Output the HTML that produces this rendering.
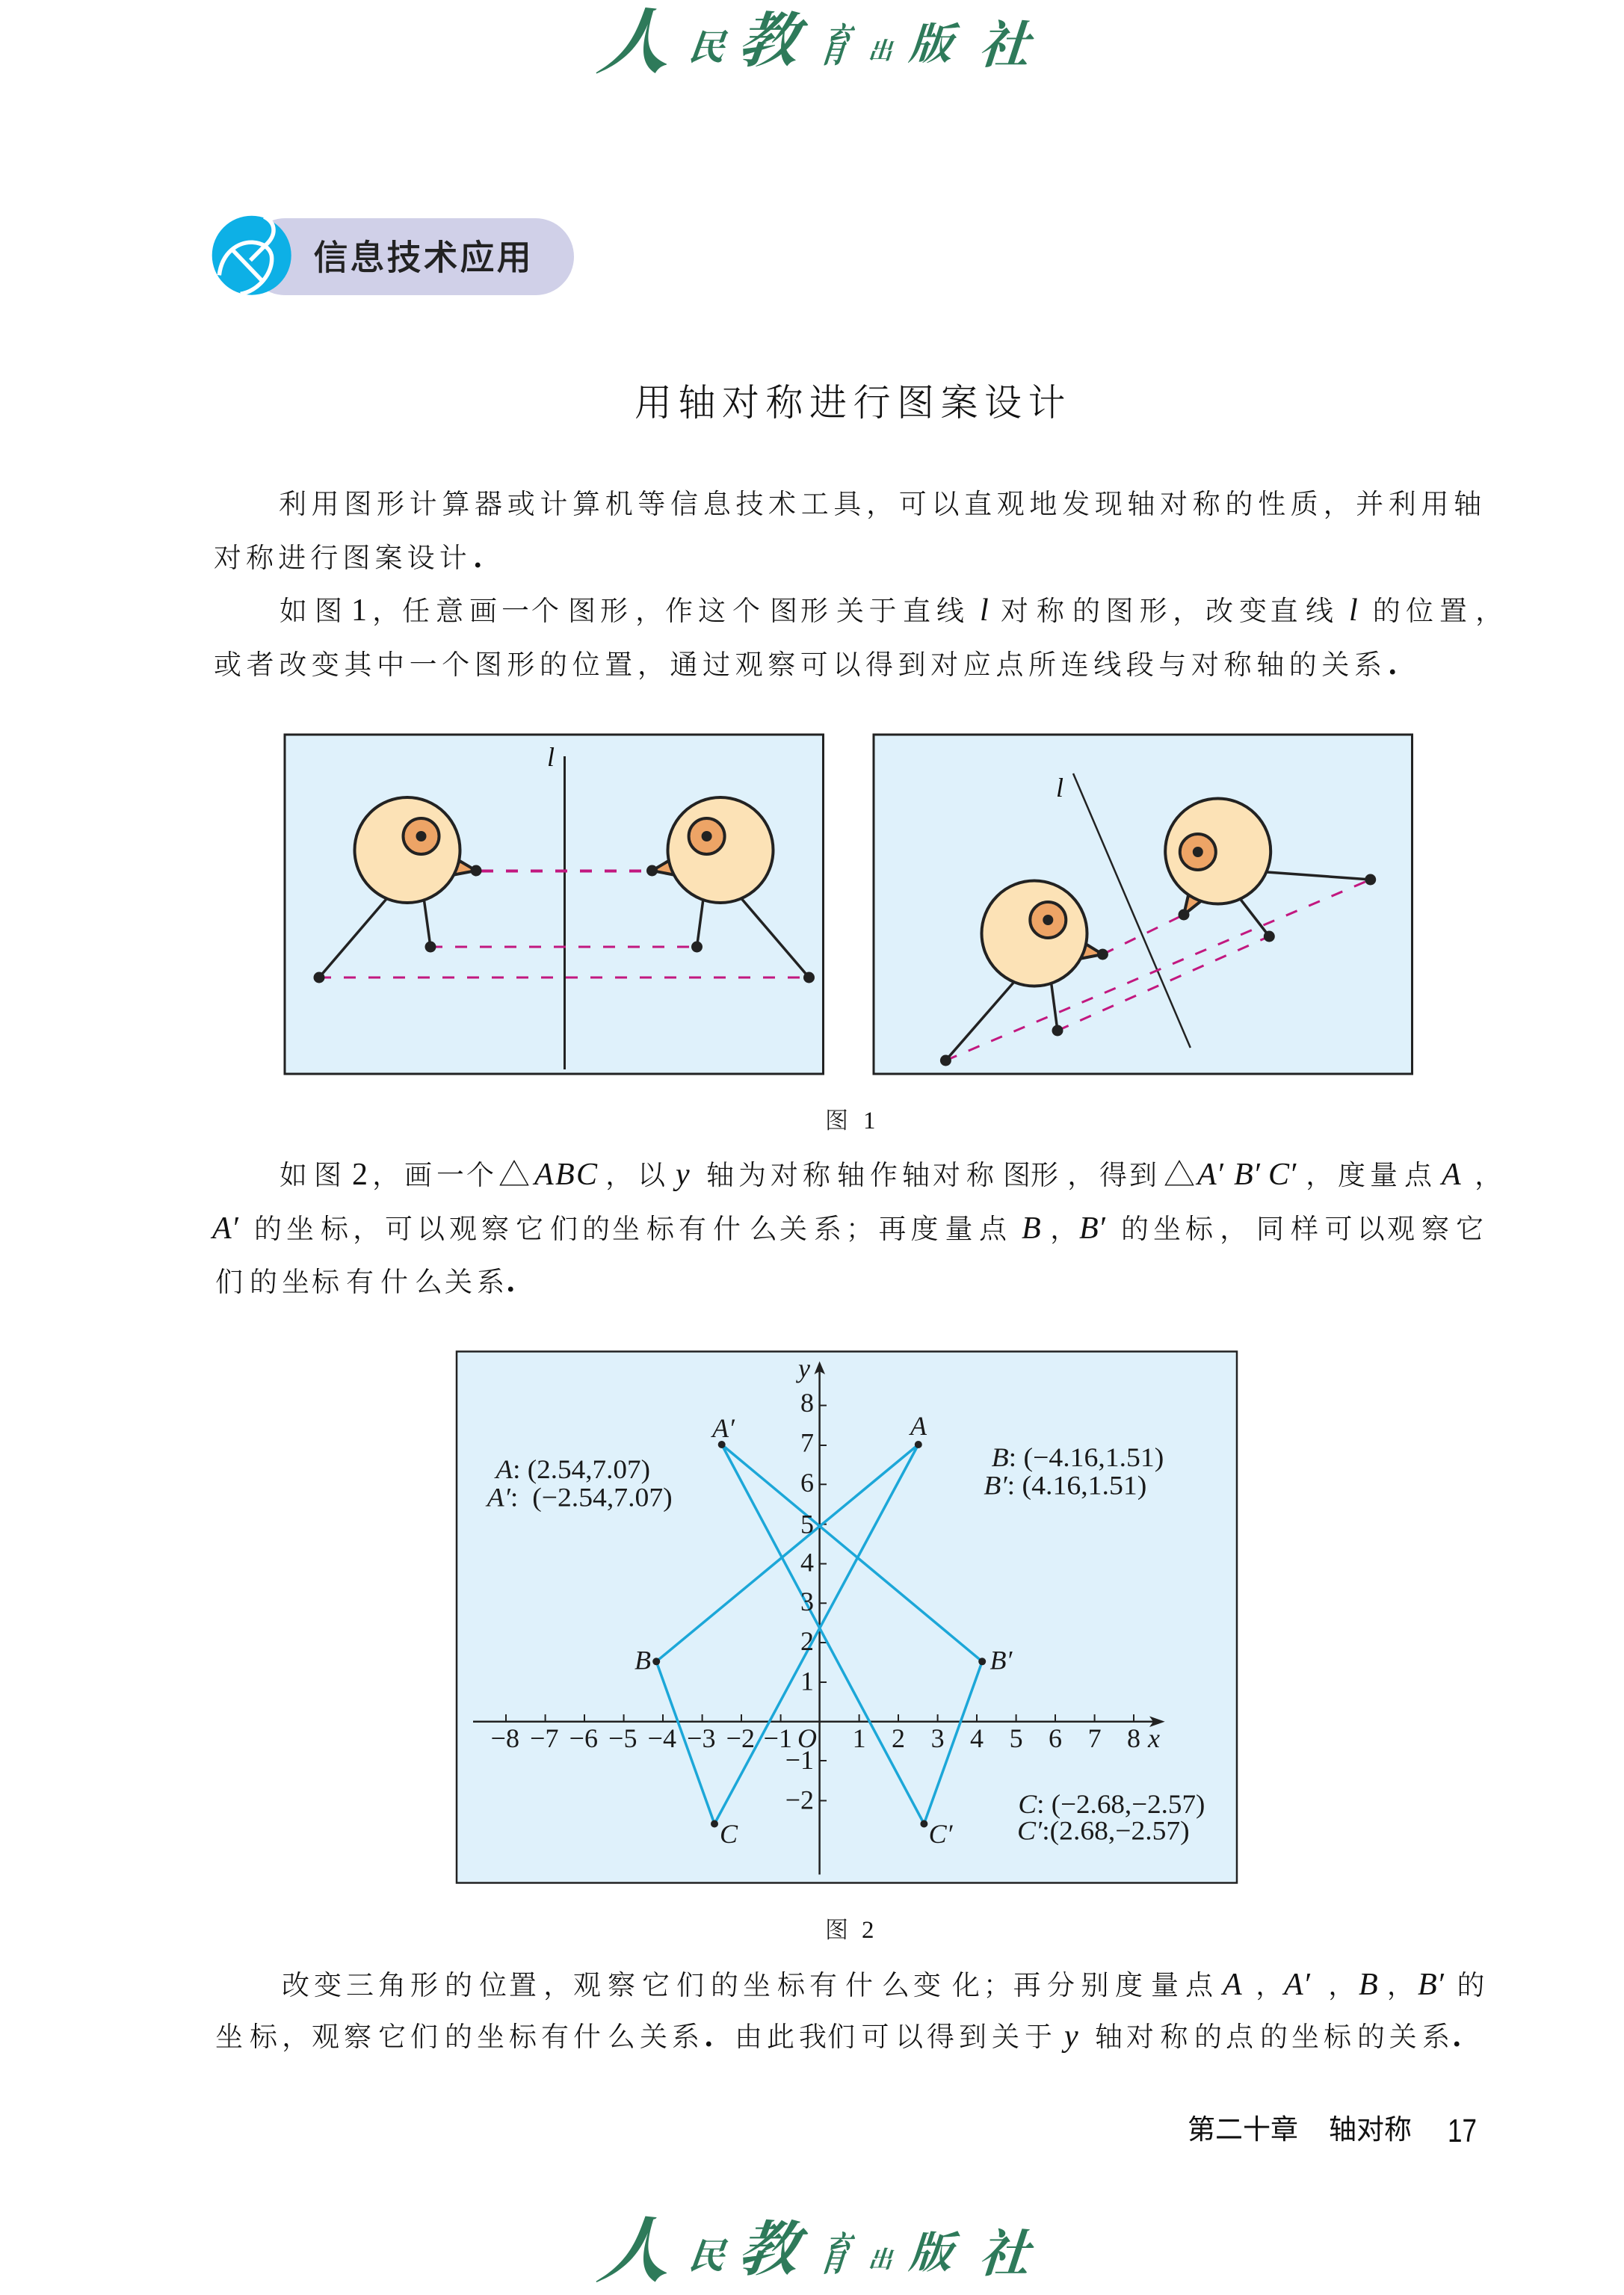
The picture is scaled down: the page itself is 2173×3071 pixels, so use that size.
<!DOCTYPE html>
<html lang="zh-CN">
<head>
<meta charset="utf-8">
<title>用轴对称进行图案设计</title>
<style>
html,body{margin:0;padding:0;background:#fff;}
body{width:2173px;height:3071px;overflow:hidden;}
svg{display:block;position:absolute;left:0;top:0;}
.c{font-family:"Liberation Serif","Noto Serif CJK SC",serif;font-size:37px;font-weight:300;fill:#111;}
.l{font-family:"Liberation Serif",serif;font-size:42px;fill:#111;}
.i{font-style:italic;}
.n{font-family:"Liberation Serif",serif;font-size:36px;fill:#1a1a1a;}
.g{font-family:"Liberation Serif","Noto Serif CJK SC",serif;font-weight:700;fill:#2e7a5a;}
.p{stroke:#222;stroke-width:4;fill:none;}
.k{stroke:#222;stroke-width:3.5;}
.d{stroke:#c2187f;stroke-width:3;stroke-dasharray:16 17;fill:none;}
.b{stroke:#1ca7d8;stroke-width:3.5;fill:none;}
</style>
</head>
<body>
<svg width="2173" height="3071" viewBox="0 0 2173 3071" xmlns="http://www.w3.org/2000/svg">
<defs>
<g id="logo">
<text class="g" font-size="96" transform="translate(797,90) skewX(-20)">人</text>
<text class="g" font-size="48" transform="translate(920,80) skewX(-20)">民</text>
<text class="g" font-size="80" transform="translate(985,82) skewX(-20)">教</text>
<text class="g" font-size="50" transform="translate(1096,82) skewX(-18) scale(.72,1.2)">育</text>
<text class="g" font-size="32" transform="translate(1161,79) skewX(-18)">出</text>
<text class="g" font-size="58" transform="translate(1215,79) skewX(-18)">版</text>
<text class="g" font-size="68" transform="translate(1308,84) skewX(-18)">社</text>
</g>
</defs>

<use href="#logo"/>
<use href="#logo" transform="translate(0,2955.5)"/>

<!-- badge -->
<rect x="330" y="292" width="438" height="103" rx="51.5" fill="#d0d0e8"/>
<circle cx="336.7" cy="341.7" r="53" fill="#0db0e6"/>
<g stroke="#fff" stroke-width="5.5" fill="none">
<path d="M293.3,368.3 C296.7,338.3 318.3,323.3 338,324.3 C352,325 361,332 363.3,341.7 C366.7,365 345,390 321.7,393.3"/>
<path d="M353.3,290 C370,298.3 370,315 355,328.3 L335,348.3"/>
<path d="M311.7,335 L350,375"/>
</g>
<text x="419" y="361" font-family="'Liberation Sans','Noto Sans CJK SC',sans-serif" font-size="47" font-weight="500" letter-spacing="2" fill="#222">信息技术应用</text>

<!-- heading -->
<text class="c" x="849" y="556" style="font-size:50px" letter-spacing="8.5">用轴对称进行图案设计</text>

<g transform="translate(-2,0)">
<!-- paragraph 1 -->
<text class="c" x="375" y="687" letter-spacing="6.67">利用图形计算器或计算机等信息技术工具，可以直观地发现轴对称的性质，并利用轴</text>
<text class="c" x="288" y="759" letter-spacing="6.1">对称进行图案设计</text>
<text class="c" y="830" x="376 423 500 540 585 630 673 713 762 805 852 892 936 982 1032 1073 1121 1164.5 1210 1255 1341 1389 1437 1481.5 1526.6 1571 1615 1660 1701.5 1749 1838.7 1883 1928 1976">如图，任意画一个图形，作这个图形关于直线对称的图形，改变直线的位置，</text>
<text class="c" x="288" y="902" letter-spacing="6.6">或者改变其中一个图形的位置，通过观察可以得到对应点所连线段与对称轴的关系</text>
</g>
<text class="l" x="634" y="759" font-weight="700">.</text>
<text class="l" x="470" y="830">1</text>
<text class="l i" x="1311" y="830">l</text>
<text class="l i" x="1805" y="830">l</text>
<text class="l" x="1858" y="902" font-weight="700">.</text>

<!-- figure 1 left -->
<rect x="381" y="983" width="720.5" height="454" fill="#dff1fb" stroke="#222" stroke-width="3"/>
<line x1="755.5" y1="1012" x2="755.5" y2="1431" stroke="#222" stroke-width="3"/>
<text class="l i" x="732" y="1025" style="font-size:36px">l</text>
<g>
<line class="d" x1="644" y1="1165.5" x2="865" y2="1165.5" style="stroke-width:4"/>
<line class="d" x1="576" y1="1267" x2="932" y2="1267"/>
<line class="d" x1="427" y1="1308" x2="1082" y2="1308"/>
<line class="k" x1="517" y1="1203" x2="427" y2="1308"/>
<line class="k" x1="567.5" y1="1205" x2="576" y2="1267"/>
<line class="k" x1="940.7" y1="1205" x2="932.5" y2="1267"/>
<line class="k" x1="992.6" y1="1203" x2="1082.5" y2="1308"/>
<polygon points="615,1152 637,1165 605,1171" class="p" style="fill:#eda466"/>
<polygon points="894.5,1152 872.5,1165 903.5,1171" class="p" style="fill:#eda466"/>
<circle cx="545" cy="1137.5" r="70.5" class="p" style="fill:#fce2b6"/>
<circle cx="964" cy="1137.5" r="70.5" class="p" style="fill:#fce2b6"/>
<circle cx="563.5" cy="1119" r="24" class="p" style="fill:#eda466"/>
<circle cx="945.6" cy="1119" r="24" class="p" style="fill:#eda466"/>
<circle cx="563.5" cy="1119" r="7" fill="#222"/>
<circle cx="945.6" cy="1119" r="7" fill="#222"/>
<circle cx="637" cy="1165" r="7.5" fill="#222"/>
<circle cx="872.5" cy="1165" r="7.5" fill="#222"/>
<circle cx="576" cy="1267" r="7.5" fill="#222"/>
<circle cx="932.5" cy="1267" r="7.5" fill="#222"/>
<circle cx="427" cy="1308" r="7.5" fill="#222"/>
<circle cx="1082.5" cy="1308" r="7.5" fill="#222"/>
</g>

<!-- figure 1 right -->
<rect x="1169" y="983" width="720.5" height="454" fill="#dff1fb" stroke="#222" stroke-width="3"/>
<line x1="1436" y1="1035" x2="1592.8" y2="1402" stroke="#222" stroke-width="2.5"/>
<text class="l i" x="1413" y="1066" style="font-size:36px">l</text>
<g>
<line class="d" x1="1475.4" y1="1277" x2="1584" y2="1224"/>
<line class="d" x1="1265.4" y1="1419" x2="1833.7" y2="1177"/>
<line class="d" x1="1415" y1="1379" x2="1698.3" y2="1253"/>
<line class="k" x1="1356" y1="1315" x2="1265.4" y2="1419"/>
<line class="k" x1="1406.7" y1="1316" x2="1415" y2="1379"/>
<line class="k" x1="1695.3" y1="1167" x2="1833.7" y2="1177"/>
<line class="k" x1="1659.5" y1="1203" x2="1698.3" y2="1253"/>
<polygon points="1452.5,1263 1475.4,1277 1444.6,1283" class="p" style="fill:#eda466"/>
<polygon points="1590,1198 1584,1224 1608,1205" class="p" style="fill:#eda466"/>
<circle cx="1384" cy="1249" r="70.5" class="p" style="fill:#fce2b6"/>
<circle cx="1629.7" cy="1139" r="70.5" class="p" style="fill:#fce2b6"/>
<circle cx="1402.3" cy="1231" r="24" class="p" style="fill:#eda466"/>
<circle cx="1602.8" cy="1140" r="24" class="p" style="fill:#eda466"/>
<circle cx="1402.3" cy="1231" r="7" fill="#222"/>
<circle cx="1602.8" cy="1140" r="7" fill="#222"/>
<circle cx="1475.4" cy="1277" r="7.5" fill="#222"/>
<circle cx="1584" cy="1224" r="7.5" fill="#222"/>
<circle cx="1415" cy="1379" r="7.5" fill="#222"/>
<circle cx="1698.3" cy="1253" r="7.5" fill="#222"/>
<circle cx="1265.4" cy="1419" r="7.5" fill="#222"/>
<circle cx="1833.7" cy="1177" r="7.5" fill="#222"/>
</g>

<text class="c" x="1104" y="1510" style="font-size:31px">图</text>
<text class="l" x="1155" y="1510" style="font-size:33px">1</text>

<!-- paragraph 2 -->
<g transform="translate(-2,0)">
<text class="c" y="1585" x="376 422 500 543 586 626 812 855 947 990 1033 1076 1122 1166 1209 1250 1295 1344 1381 1430 1473 1513 1749 1792 1835 1881 1975">如图，画一个，以轴为对称轴作轴对称图形，得到，度量点，</text>
<text class="c" y="1657" x="342 385 431 474 517 560 603 646 692 738 781 821 867 910 956 1005 1045 1091 1134 1177.5 1220.5 1266.5 1312 1407 1502 1545 1588 1634 1683 1729 1774.5 1817.6 1858 1904 1950">的坐标，可以观察它们的坐标有什么关系；再度量点，的坐标，同样可以观察它</text>
<text class="c" y="1728" x="290 336 379 419 465 511 557 597 640">们的坐标有什么关系</text>
</g>
<text class="c" x="667" y="1587" style="font-size:42px;font-family:'Noto Sans CJK SC',sans-serif">△</text>
<text class="c" x="1557" y="1587" style="font-size:42px;font-family:'Noto Sans CJK SC',sans-serif">△</text>
<text class="l" x="471" y="1585">2</text>
<text class="l i" x="715" y="1585" textLength="84">ABC</text>
<text class="l i" x="904" y="1585">y</text>
<text class="l i" x="1602" y="1585">A′</text>
<text class="l i" x="1651" y="1585">B′</text>
<text class="l i" x="1697" y="1585">C′</text>
<text class="l i" x="1929" y="1585">A</text>
<text class="l i" x="284" y="1657">A′</text>
<text class="l i" x="1367" y="1657">B</text>
<text class="l i" x="1444" y="1657">B′</text>
<text class="l" x="678" y="1728" font-weight="700">.</text>

<!-- figure 2 -->
<rect x="611" y="1808.5" width="1044" height="711" fill="#dff1fb" stroke="#222" stroke-width="2.5"/>
<line x1="1096.6" y1="1830" x2="1096.6" y2="2508.4" stroke="#222" stroke-width="2.5"/>
<line x1="633" y1="2303.8" x2="1545" y2="2303.8" stroke="#222" stroke-width="2.5"/>
<polygon points="1096.6,1821.5 1104,1839 1096.6,1835 1089.5,1839" fill="#222"/>
<polygon points="1558.7,2303.8 1538,2296.5 1543,2303.8 1538,2311" fill="#222"/>
<g stroke="#222" stroke-width="2">
<path d="M677,2294V2304M729.6,2294V2304M782,2294V2304M834.6,2294V2304M887,2294V2304M939.6,2294V2304M992,2294V2304M1044.6,2294V2304M1149.6,2294V2304M1202,2294V2304M1254.6,2294V2304M1307,2294V2304M1359.6,2294V2304M1412,2294V2304M1464.6,2294V2304M1517,2294V2304"/>
<path d="M1096,1880.6H1106M1096,1934H1106M1096,1986.3H1106M1096,2039.6H1106M1096,2092.5H1106M1096,2145.3H1106M1096,2198H1106M1096,2251H1106M1096,2356H1106M1096,2409.5H1106"/>
</g>
<g class="b">
<path class="b" d="M1228.8,1933 L878.2,2223.3 L956,2440.5 Z" stroke-linejoin="round"/>
<path class="b" d="M965.7,1933 L1314.2,2223.3 L1236.4,2440.5 Z" stroke-linejoin="round"/>
</g>
<g fill="#222">
<circle cx="1228.8" cy="1933" r="5"/><circle cx="965.7" cy="1933" r="5"/>
<circle cx="878.2" cy="2223.3" r="5"/><circle cx="1314.2" cy="2223.3" r="5"/>
<circle cx="956" cy="2440.5" r="5"/><circle cx="1236.4" cy="2440.5" r="5"/>
</g>
<g text-anchor="middle">
<text class="n" x="675.8" y="2338">−8</text><text class="n" x="728.3" y="2338">−7</text><text class="n" x="780.8" y="2338">−6</text><text class="n" x="833.3" y="2338">−5</text><text class="n" x="885.8" y="2338">−4</text><text class="n" x="938.3" y="2338">−3</text><text class="n" x="990.8" y="2338">−2</text><text class="n" x="1040.8" y="2338">−1</text>
<text class="n" x="1149.6" y="2338">1</text><text class="n" x="1202" y="2338">2</text><text class="n" x="1254.6" y="2338">3</text><text class="n" x="1307" y="2338">4</text><text class="n" x="1359.6" y="2338">5</text><text class="n" x="1412" y="2338">6</text><text class="n" x="1464.6" y="2338">7</text><text class="n" x="1517" y="2338">8</text>
</g>
<g text-anchor="end">
<text class="n" x="1089" y="1889">8</text><text class="n" x="1089" y="1942.5">7</text><text class="n" x="1089" y="1996">6</text><text class="n" x="1089" y="2051.6">5</text><text class="n" x="1089" y="2102.5">4</text><text class="n" x="1089" y="2155">3</text><text class="n" x="1089" y="2208">2</text><text class="n" x="1089" y="2261.5">1</text><text class="n" x="1089" y="2367">−1</text><text class="n" x="1089" y="2420.5">−2</text>
</g>
<text class="n i" x="1067" y="2338">O</text>
<text class="n i" x="1536" y="2338">x</text>
<text class="n i" x="1068" y="1843">y</text>
<text class="n i" x="953" y="1923">A′</text>
<text class="n i" x="1218" y="1920">A</text>
<text class="n i" x="849" y="2233.5">B</text>
<text class="n i" x="1324.5" y="2233.5">B′</text>
<text class="n i" x="963" y="2466">C</text>
<text class="n i" x="1242.6" y="2466">C′</text>
<text class="n" x="663.4" y="1978" textLength="206.6" lengthAdjust="spacingAndGlyphs"><tspan class="i">A</tspan>: (2.54,7.07)</text>
<text class="n" x="651.7" y="2015.4" textLength="248" lengthAdjust="spacingAndGlyphs"><tspan class="i">A′</tspan>:&#160;&#160;(−2.54,7.07)</text>
<text class="n" x="1326.6" y="1962" textLength="230.7" lengthAdjust="spacingAndGlyphs"><tspan class="i">B</tspan>: (−4.16,1.51)</text>
<text class="n" x="1316.3" y="1999.4" textLength="218" lengthAdjust="spacingAndGlyphs"><tspan class="i">B′</tspan>: (4.16,1.51)</text>
<text class="n" x="1362.4" y="2426" textLength="250" lengthAdjust="spacingAndGlyphs"><tspan class="i">C</tspan>: (−2.68,−2.57)</text>
<text class="n" x="1361" y="2461.4" textLength="230.7" lengthAdjust="spacingAndGlyphs"><tspan class="i">C′</tspan>:(2.68,−2.57)</text>

<text class="c" x="1104" y="2593" style="font-size:31px">图</text>
<text class="l" x="1153" y="2593" style="font-size:33px">2</text>

<!-- paragraph 3 -->
<g transform="translate(-2,0)">
<text class="c" y="2669" x="379 422 465 508 551 597 643 683 729 769 815 861 907 953 996 1042 1085 1133 1182 1224 1276 1318 1357.6 1403 1448.5 1494 1542 1588 1682 1779 1857.6 1951.5">改变三角形的位置，观察它们的坐标有什么变化；再分别度量点，，，的</text>
<text class="c" y="2738" x="290 336 379 419 462 508 551 597 640 683 726 769 815 858 901 985 1028 1071 1109 1154.5 1200 1242 1285 1329 1373 1467 1509 1554.5 1600 1642 1688 1730 1773 1818 1860.6 1905">坐标，观察它们的坐标有什么关系由此我们可以得到关于轴对称的点的坐标的关系</text>
</g>
<text class="l i" x="1636" y="2669">A</text>
<text class="l i" x="1718" y="2669">A′</text>
<text class="l i" x="1818" y="2669">B</text>
<text class="l i" x="1897" y="2669">B′</text>
<text class="l" x="943" y="2738" font-weight="700">.</text>
<text class="l i" x="1424" y="2738">y</text>
<text class="l" x="1944" y="2738" font-weight="700">.</text>

<!-- footer -->
<text x="1589" y="2862" font-family="'Liberation Sans','Noto Sans CJK SC',sans-serif" font-size="37" fill="#111" font-weight="400">第二十章</text>
<text x="1778" y="2862" font-family="'Liberation Sans','Noto Sans CJK SC',sans-serif" font-size="37" fill="#111" font-weight="400">轴对称</text>
<text x="1937" y="2866" font-family="'Liberation Sans',sans-serif" font-size="44" fill="#111" textLength="39" lengthAdjust="spacingAndGlyphs">17</text>
</svg>
</body>
</html>
